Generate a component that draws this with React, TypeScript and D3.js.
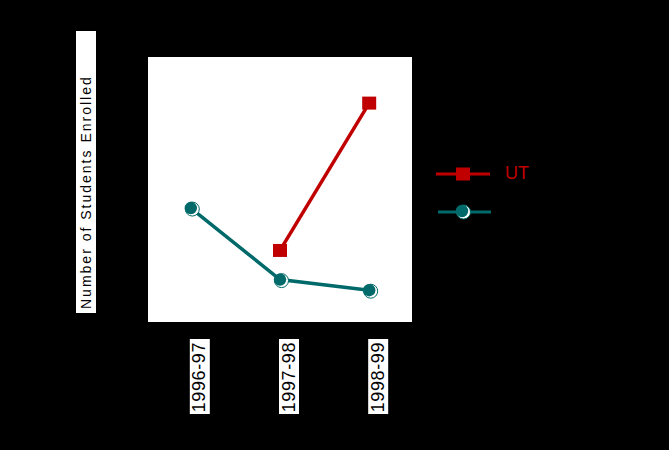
import React from "react";
import * as d3 from "d3";

const categories: string[] = ["1996-97", "1997-98", "1998-99"];
const utValues: (number | null)[] = [null, 27, 82.6];
const otherValues: (number | null)[] = [43, 16, 12];
const seriesNames: string[] = ["UT", ""];
const yLabel = "Number of Students Enrolled";

const RED = "#c00000";
const TEAL = "#006a6a";

export default function App() {
  const W = 669, H = 450;
  const plot = { x0: 148, x1: 412, y0: 57, y1: 322 };
  const x = d3.scalePoint<string>().domain(categories).range([plot.x0, plot.x1]).padding(0.48);
  const cx = (c: string) => x(c) as number;
  const y = d3.scaleLinear().domain([0, 100]).range([plot.y1, plot.y0]);

  const line = d3
    .line<[string, number | null]>()
    .defined((d) => d[1] !== null)
    .x((d) => cx(d[0]))
    .y((d) => y(d[1] as number));

  const utPts = categories.map((c, i) => [c, utValues[i]] as [string, number | null]);
  const otPts = categories.map((c, i) => [c, otherValues[i]] as [string, number | null]);

  const font = "Liberation Sans, Arial, sans-serif";

  const Circle = ({ px, py }: { px: number; py: number }) => (
    <g>
      <circle cx={px + 1.5} cy={py + 1} r={7} fill="white" stroke={TEAL} strokeWidth={1} />
      <circle cx={px} cy={py} r={6.2} fill={TEAL} />
    </g>
  );
  const Square = ({ px, py }: { px: number; py: number }) => (
    <rect x={px - 7} y={py - 6.5} width={14} height={13} fill={RED} />
  );

  return (
    <svg width={W} height={H} style={{ position: "absolute", left: 0, top: 0, display: "block" }}>
      <rect x={0} y={0} width={W} height={H} fill="black" />
      <rect x={plot.x0} y={plot.y0} width={plot.x1 - plot.x0} height={plot.y1 - plot.y0} fill="white" />

      {/* y label */}
      <rect x={76} y={31} width={20} height={282} fill="white" />
      <text
        transform={`translate(91,309) rotate(-90)`}
        fontFamily={font}
        fontSize={14}
        letterSpacing={2}
        fill="black"
        textAnchor="start"
      >
        {yLabel}
      </text>

      {/* x tick labels */}
      {categories.map((c) => (
        <g key={c}>
          <rect x={cx(c) - 1} y={339} width={20} height={75} fill="white" />
          <text
            transform={`translate(${cx(c) + 14.5},342) rotate(-90)`}
            fontFamily={font}
            fontSize={18}
            letterSpacing={0.6}
            fill="black"
            textAnchor="end"
          >
            {c}
          </text>
        </g>
      ))}

      {/* lines */}
      <path d={line(otPts) || ""} fill="none" stroke={TEAL} strokeWidth={3.5} />
      <path d={line(utPts) || ""} fill="none" stroke={RED} strokeWidth={3.5} />
      {otPts.filter((d) => d[1] !== null).map((d) => (
        <Circle key={d[0]} px={cx(d[0])} py={y(d[1] as number)} />
      ))}
      {utPts.filter((d) => d[1] !== null).map((d) => (
        <Square key={d[0]} px={cx(d[0])} py={y(d[1] as number)} />
      ))}

      {/* legend */}
      <line x1={436} x2={490} y1={174} y2={174} stroke={RED} strokeWidth={3} />
      <Square px={463} py={174} />
      <text x={505} y={179} fontFamily={font} fontSize={18} fill={RED}>
        {seriesNames[0]}
      </text>
      <line x1={438} x2={491} y1={212} y2={212} stroke={TEAL} strokeWidth={3} />
      <Circle px={462} py={211} />
    </svg>
  );
}
